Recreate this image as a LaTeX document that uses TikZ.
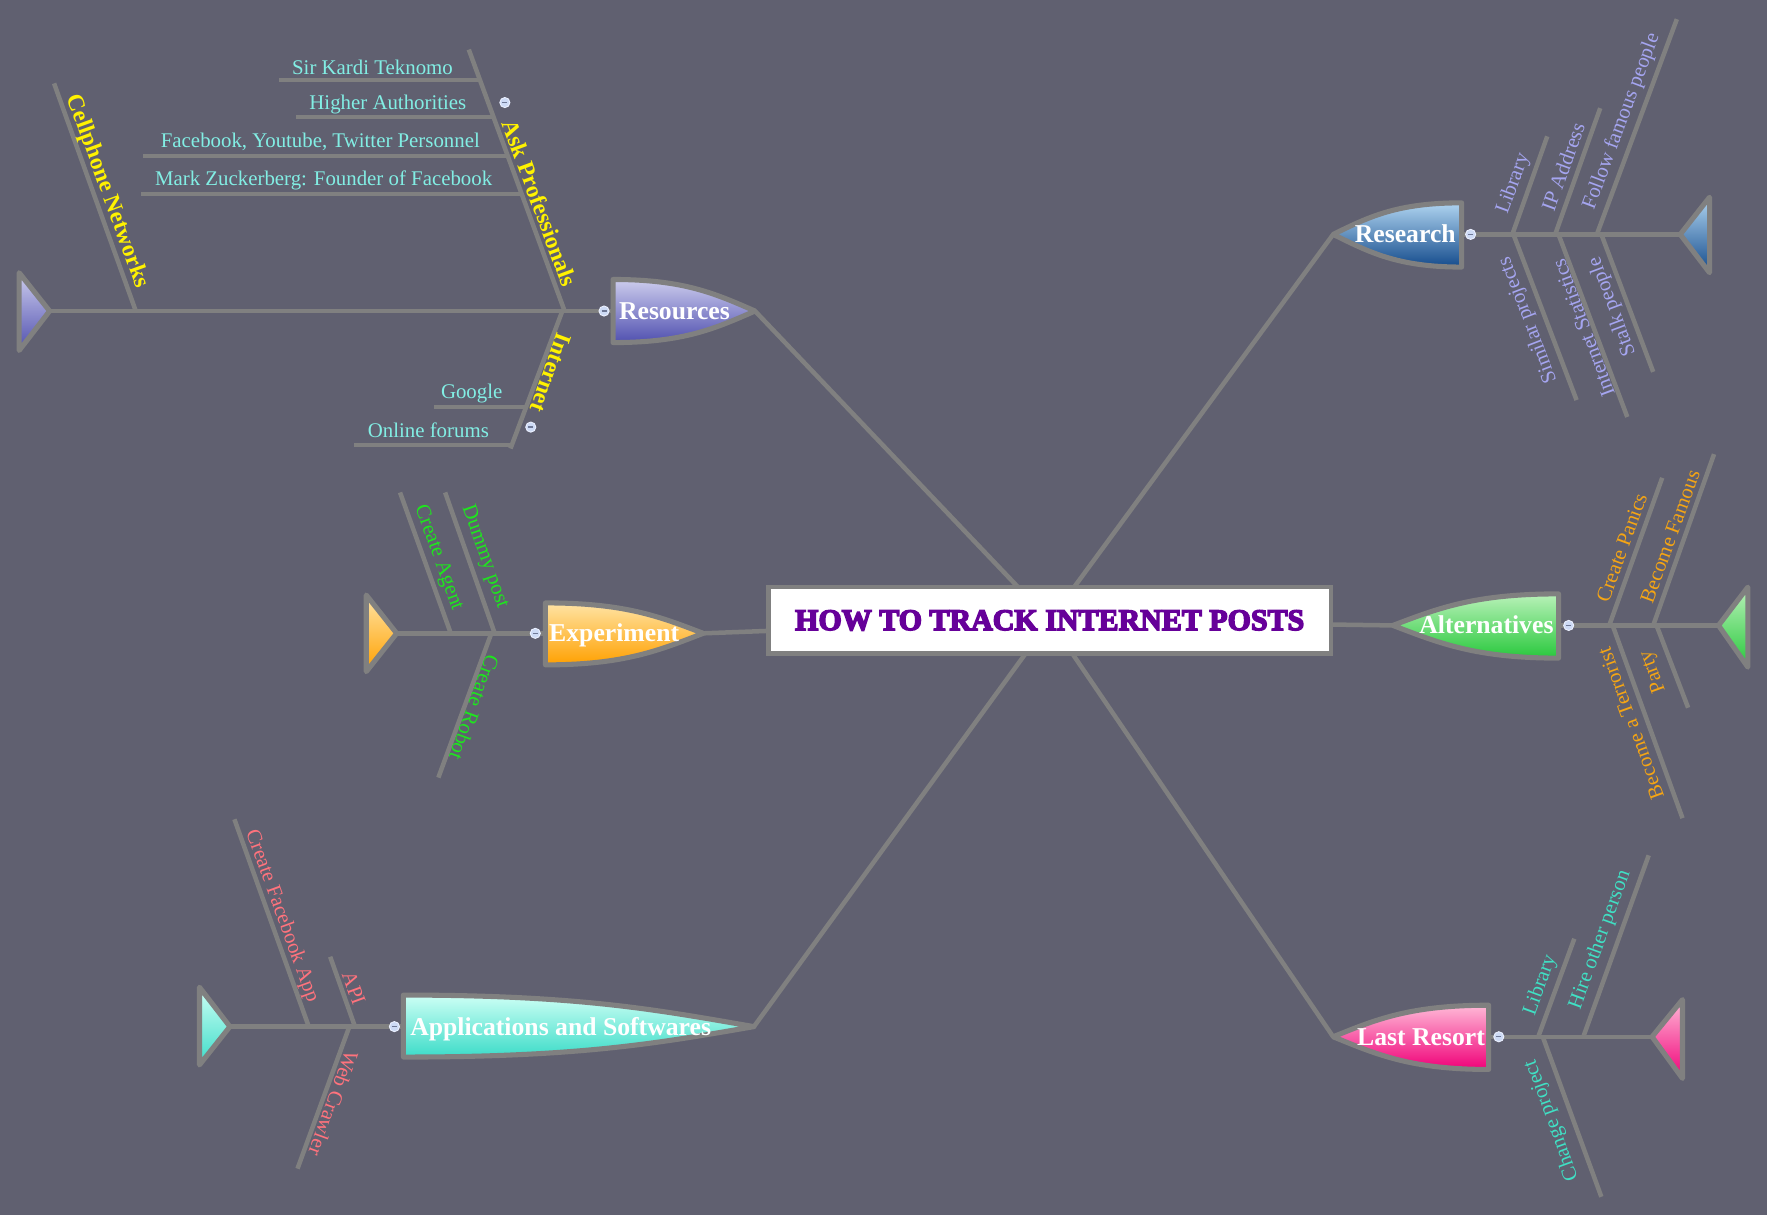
\documentclass[tikz,border=0pt]{standalone}
\usepackage{fontspec}
\setmainfont{Liberation Serif}
\newfontfamily\subfont{Liberation Serif}
\newcommand\heavytext[1]{\special{pdf:literal direct 2 Tr 1.3 w}#1\special{pdf:literal direct 0 Tr}}
\definecolor{bgc}{RGB}{96,96,112}
\definecolor{bonec}{RGB}{128,128,128}
\definecolor{titlec}{RGB}{102,0,153}
\definecolor{cyanTxt}{RGB}{130,238,228}
\definecolor{lavTxt}{RGB}{165,165,240}
\definecolor{orgTxt}{RGB}{245,165,20}
\definecolor{grnTxt}{RGB}{30,230,30}
\definecolor{salTxt}{RGB}{255,115,125}
\definecolor{turTxt}{RGB}{64,224,196}
\definecolor{knobfill}{RGB}{205,218,245}
\definecolor{knobedge}{RGB}{235,240,255}
\definecolor{knobdashc}{RGB}{110,120,150}
\definecolor{resTop}{RGB}{205,205,238}
\definecolor{resBot}{RGB}{80,80,175}
\definecolor{rchTop}{RGB}{175,212,240}
\definecolor{rchBot}{RGB}{20,75,140}
\definecolor{expTop}{RGB}{255,228,165}
\definecolor{expBot}{RGB}{255,160,0}
\definecolor{altTop}{RGB}{185,242,185}
\definecolor{altBot}{RGB}{40,200,60}
\definecolor{lrTop}{RGB}{255,185,215}
\definecolor{lrBot}{RGB}{240,0,120}
\definecolor{appTop}{RGB}{205,255,245}
\definecolor{appBot}{RGB}{60,220,200}
\begin{document}
\begin{tikzpicture}[x=1pt,y=-1pt,
  bonel/.style={draw=bonec, line width=4pt},
  headsh/.style={draw=bonec, line width=4.5pt, line join=round},
  subl/.style={font=\subfont\fontsize{18.5}{20}\selectfont, inner sep=0pt},
  catl/.style={font=\bfseries\fontsize{20.8}{22}\selectfont, text=yellow, inner sep=0pt},
  headl/.style={font=\bfseries\fontsize{22.8}{24}\selectfont, text=white, inner sep=0pt, anchor=base},
  knob/.style={circle, draw=knobedge, fill=knobfill, line width=0.8pt, minimum size=9pt, inner sep=0pt,
    path picture={\draw[knobdashc, line width=1.1pt] ([xshift=-2.2pt]path picture bounding box.center) -- ([xshift=2.2pt]path picture bounding box.center);}}
]
\fill[bgc] (0,0) rectangle (1568,1078);
\useasboundingbox (0,0) rectangle (1568,1078);

% ---------- central connectors ----------
\coordinate (ctr) at (931.5,550.5);
\coordinate (resTip) at (670,276);
\coordinate (rchTip) at (1183,208);
\coordinate (expTip) at (624,562);
\coordinate (altTip) at (1236,555);
\coordinate (appTip) at (669,911);
\coordinate (lrTip) at (1183,920);
\foreach \t in {resTip,rchTip,expTip,altTip,appTip,lrTip}
  \draw[bonel] (ctr) -- (\t);
\node[draw=bonec, line width=4pt, fill=white, minimum width=499pt, minimum height=59pt, inner sep=0pt,
  font=\bfseries\fontsize{26.6}{28}\selectfont, text=titlec] (title) at (ctr) {\heavytext{HOW TO TRACK INTERNET POSTS}};

% ---------- Resources ----------
\coordinate (rsTail) at (44,276);
\coordinate (rsHead) at (544,276);
\draw[bonel] (rsTail) -- (rsHead);
\coordinate (cn1) at (48,74); \coordinate (cn2) at (120.5,276);
\draw[bonel] (cn1) -- (cn2);
\coordinate (ap1) at (416,44); \coordinate (ap2) at (501,276);
\draw[bonel] (ap1) -- (ap2);
\coordinate (in1) at (499,276); \coordinate (in2) at (453,398);
\draw[bonel] (in1) -- (in2);
\coordinate (sk1) at (248,71); \coordinate (sk2) at (426,71);
\coordinate (ha1) at (263,104); \coordinate (ha2) at (438,104);
\coordinate (fb1) at (127,138.5); \coordinate (fb2) at (450.6,138.5);
\coordinate (mz1) at (125,172); \coordinate (mz2) at (463,172);
\coordinate (go1) at (385,361); \coordinate (go2) at (467,361);
\coordinate (of1) at (314,395); \coordinate (of2) at (454,395);
\foreach \a/\b in {sk1/sk2,ha1/ha2,fb1/fb2,mz1/mz2,go1/go2,of1/of2}
  \draw[bonel] (\a) -- (\b);
\path[headsh, top color=resTop, bottom color=resBot]
  (544,248) .. controls (607,248) and (634.7,260.6) .. (670,276)
  .. controls (634.7,291.4) and (607,304) .. (544,304) -- cycle;
\path[headsh, top color=resTop, bottom color=resBot] (17,242) -- (17,311) -- (44,276) -- cycle;
\node[headl] (resL) at (598.5,283.5) {Resources};
\node[knob] (rsK) at (536,276) {};
\node[knob] (apK) at (448,91) {};
\node[knob] (inK) at (471,379) {};
\node[catl, rotate=-70] (cnL) at (95,170) {Cellphone Networks};
\node[catl, rotate=-69.6] (apL) at (479,180) {Ask Professionals};
\node[catl, rotate=-110] (inL) at (489,331) {Internet};
\node[subl, text=cyanTxt, anchor=base east] (skL) at (402,66) {Sir Kardi Teknomo};
\node[subl, text=cyanTxt, anchor=base east] (haL) at (414,97) {Higher Authorities};
\node[subl, text=cyanTxt, anchor=base east] (fbL) at (426,131) {Facebook, Youtube, Twitter Personnel};
\node[subl, text=cyanTxt, anchor=base east] (mzL) at (437,165) {Mark Zuckerberg: Founder of Facebook};
\node[subl, text=cyanTxt, anchor=base east] (goL) at (446,354) {Google};
\node[subl, text=cyanTxt, anchor=base east] (ofL) at (434,388) {Online forums};

% ---------- Research ----------
\coordinate (rcHead) at (1297,208); \coordinate (rcTail) at (1491,208);
\draw[bonel] (rcHead) -- (rcTail);
\coordinate (rl1) at (1342,208); \coordinate (rl2) at (1373,121);
\coordinate (ri1) at (1380,208); \coordinate (ri2) at (1420,96);
\coordinate (rf1) at (1417,208); \coordinate (rf2) at (1488,17);
\coordinate (rs1) at (1343,208); \coordinate (rs2) at (1399,355);
\coordinate (rt1) at (1383,208); \coordinate (rt2) at (1444,370);
\coordinate (rp1) at (1421,208); \coordinate (rp2) at (1467,330);
\foreach \a/\b in {rl1/rl2,ri1/ri2,rf1/rf2,rs1/rs2,rt1/rt2,rp1/rp2}
  \draw[bonel] (\a) -- (\b);
\path[headsh, top color=rchTop, bottom color=rchBot]
  (1297,180) .. controls (1240,180) and (1214.9,192.3) .. (1183,208)
  .. controls (1214.9,223.7) and (1240,237) .. (1297,237) -- cycle;
\path[headsh, top color=rchTop, bottom color=rchBot] (1517,175) -- (1517,242) -- (1491,208) -- cycle;
\node[headl] (rchL) at (1247,215.5) {Research};
\node[knob] (rcK) at (1305,208) {};
\node[subl, text=lavTxt, rotate=70] (rlL) at (1343,163) {Library};
\node[subl, text=lavTxt, rotate=70] (riL) at (1387,148) {IP Address};
\node[subl, text=lavTxt, rotate=69.5] (rfL) at (1439,108) {Follow famous people};
\node[subl, text=lavTxt, rotate=111] (rsL) at (1356,284) {Similar projects};
\node[subl, text=lavTxt, rotate=110.5] (rtL) at (1405,291) {Internet Statistics};
\node[subl, text=lavTxt, rotate=110.5] (rpL) at (1431,272) {Stalk people};

% ---------- Alternatives ----------
\coordinate (alHead) at (1383,555); \coordinate (alTail) at (1525,555);
\draw[bonel] (alHead) -- (alTail);
\coordinate (ac1) at (1428,555); \coordinate (ac2) at (1475,424);
\coordinate (ab1) at (1467,555); \coordinate (ab2) at (1521,403);
\coordinate (at1) at (1431,555); \coordinate (at2) at (1493,726);
\coordinate (aq1) at (1470,555); \coordinate (aq2) at (1498,628);
\foreach \a/\b in {ac1/ac2,ab1/ab2,at1/at2,aq1/aq2}
  \draw[bonel] (\a) -- (\b);
\path[headsh, top color=altTop, bottom color=altBot]
  (1383,527) .. controls (1309.5,527) and (1277.2,539.3) .. (1236,555)
  .. controls (1277.2,570.7) and (1309.5,584) .. (1383,584) -- cycle;
\path[headsh, top color=altTop, bottom color=altBot] (1551,521) -- (1551,592) -- (1525,555) -- cycle;
\node[headl] (altL) at (1319,562.5) {Alternatives};
\node[knob] (alK) at (1392,555) {};
\node[subl, text=orgTxt, rotate=70] (acL) at (1439,486) {Create Panics};
\node[subl, text=orgTxt, rotate=70] (abL) at (1482,476) {Become Famous};
\node[subl, text=orgTxt, rotate=110] (atL) at (1447,642) {Become a Terrorist};
\node[subl, text=orgTxt, rotate=110] (aqL) at (1467,596) {Party};

% ---------- Last Resort ----------
\coordinate (lrHead) at (1321,920); \coordinate (lrTail) at (1466,920);
\draw[bonel] (lrHead) -- (lrTail);
\coordinate (ll1) at (1365,920); \coordinate (ll2) at (1397,833);
\coordinate (lh1) at (1405,920); \coordinate (lh2) at (1463,759);
\coordinate (lc1) at (1369,920); \coordinate (lc2) at (1421,1062);
\foreach \a/\b in {ll1/ll2,lh1/lh2,lc1/lc2}
  \draw[bonel] (\a) -- (\b);
\path[headsh, top color=lrTop, bottom color=lrBot]
  (1321,892) .. controls (1252,892) and (1221.6,904.3) .. (1183,920)
  .. controls (1221.6,935.7) and (1252,949) .. (1321,949) -- cycle;
\path[headsh, top color=lrTop, bottom color=lrBot] (1493,887) -- (1493,957) -- (1466,920) -- cycle;
\node[headl] (lrL) at (1261,927.5) {Last Resort};
\node[knob] (lrK) at (1330,920) {};
\node[subl, text=turTxt, rotate=70] (llL) at (1367,874) {Library};
\node[subl, text=turTxt, rotate=70] (lhL) at (1420,834) {Hire other person};
\node[subl, text=turTxt, rotate=110] (lcL) at (1377,994) {Change project};

% ---------- Experiment ----------
\coordinate (exTail) at (352,562); \coordinate (exHead) at (484,562);
\draw[bonel] (exTail) -- (exHead);
\coordinate (ea1) at (355,437); \coordinate (ea2) at (400,562);
\coordinate (ed1) at (395,437); \coordinate (ed2) at (439,562);
\coordinate (er1) at (436,562); \coordinate (er2) at (389,690);
\foreach \a/\b in {ea1/ea2,ed1/ed2,er1/er2}
  \draw[bonel] (\a) -- (\b);
\path[headsh, top color=expTop, bottom color=expBot]
  (484,535) .. controls (554,535) and (584.8,546.9) .. (624,562)
  .. controls (584.8,577.1) and (554,590) .. (484,590) -- cycle;
\path[headsh, top color=expTop, bottom color=expBot] (325,528) -- (325,596) -- (352,562) -- cycle;
\node[headl] (expL) at (545,569.5) {Experiment};
\node[knob] (exK) at (475,562) {};
\node[subl, text=grnTxt, rotate=-70] (eaL) at (389,495) {Create Agent};
\node[subl, text=grnTxt, rotate=-70.6] (edL) at (430,494) {Dummy post};
\node[subl, text=grnTxt, rotate=-110] (erL) at (421,628) {Create Robot};

% ---------- Applications and Softwares ----------
\coordinate (apTail) at (204,911); \coordinate (apHead) at (358,911);
\draw[bonel] (apTail) -- (apHead);
\coordinate (af1) at (208,727); \coordinate (af2) at (274,911);
\coordinate (aa1) at (293,849); \coordinate (aa2) at (315,911);
\coordinate (aw1) at (310,911); \coordinate (aw2) at (264,1037);
\foreach \a/\b in {af1/af2,aa1/aa2,aw1/aw2}
  \draw[bonel] (\a) -- (\b);
\path[headsh, top color=appTop, bottom color=appBot]
  (358,883) .. controls (513.5,883) and (581.9,895.9) .. (669,911)
  .. controls (581.9,926.1) and (513.5,938) .. (358,938) -- cycle;
\path[headsh, top color=appTop, bottom color=appBot] (177,876) -- (177,945) -- (204,911) -- cycle;
\node[headl] (appL) at (497.5,918.5) {Applications and Softwares};
\node[knob] (apKn) at (350,911) {};
\node[subl, text=salTxt, rotate=-70] (afL) at (250,813) {Create Facebook App};
\node[subl, text=salTxt, rotate=-70] (aaL) at (314,877) {API};
\node[subl, text=salTxt, rotate=-110] (awL) at (296,979) {Web Crawler};
\end{tikzpicture}
\end{document}
